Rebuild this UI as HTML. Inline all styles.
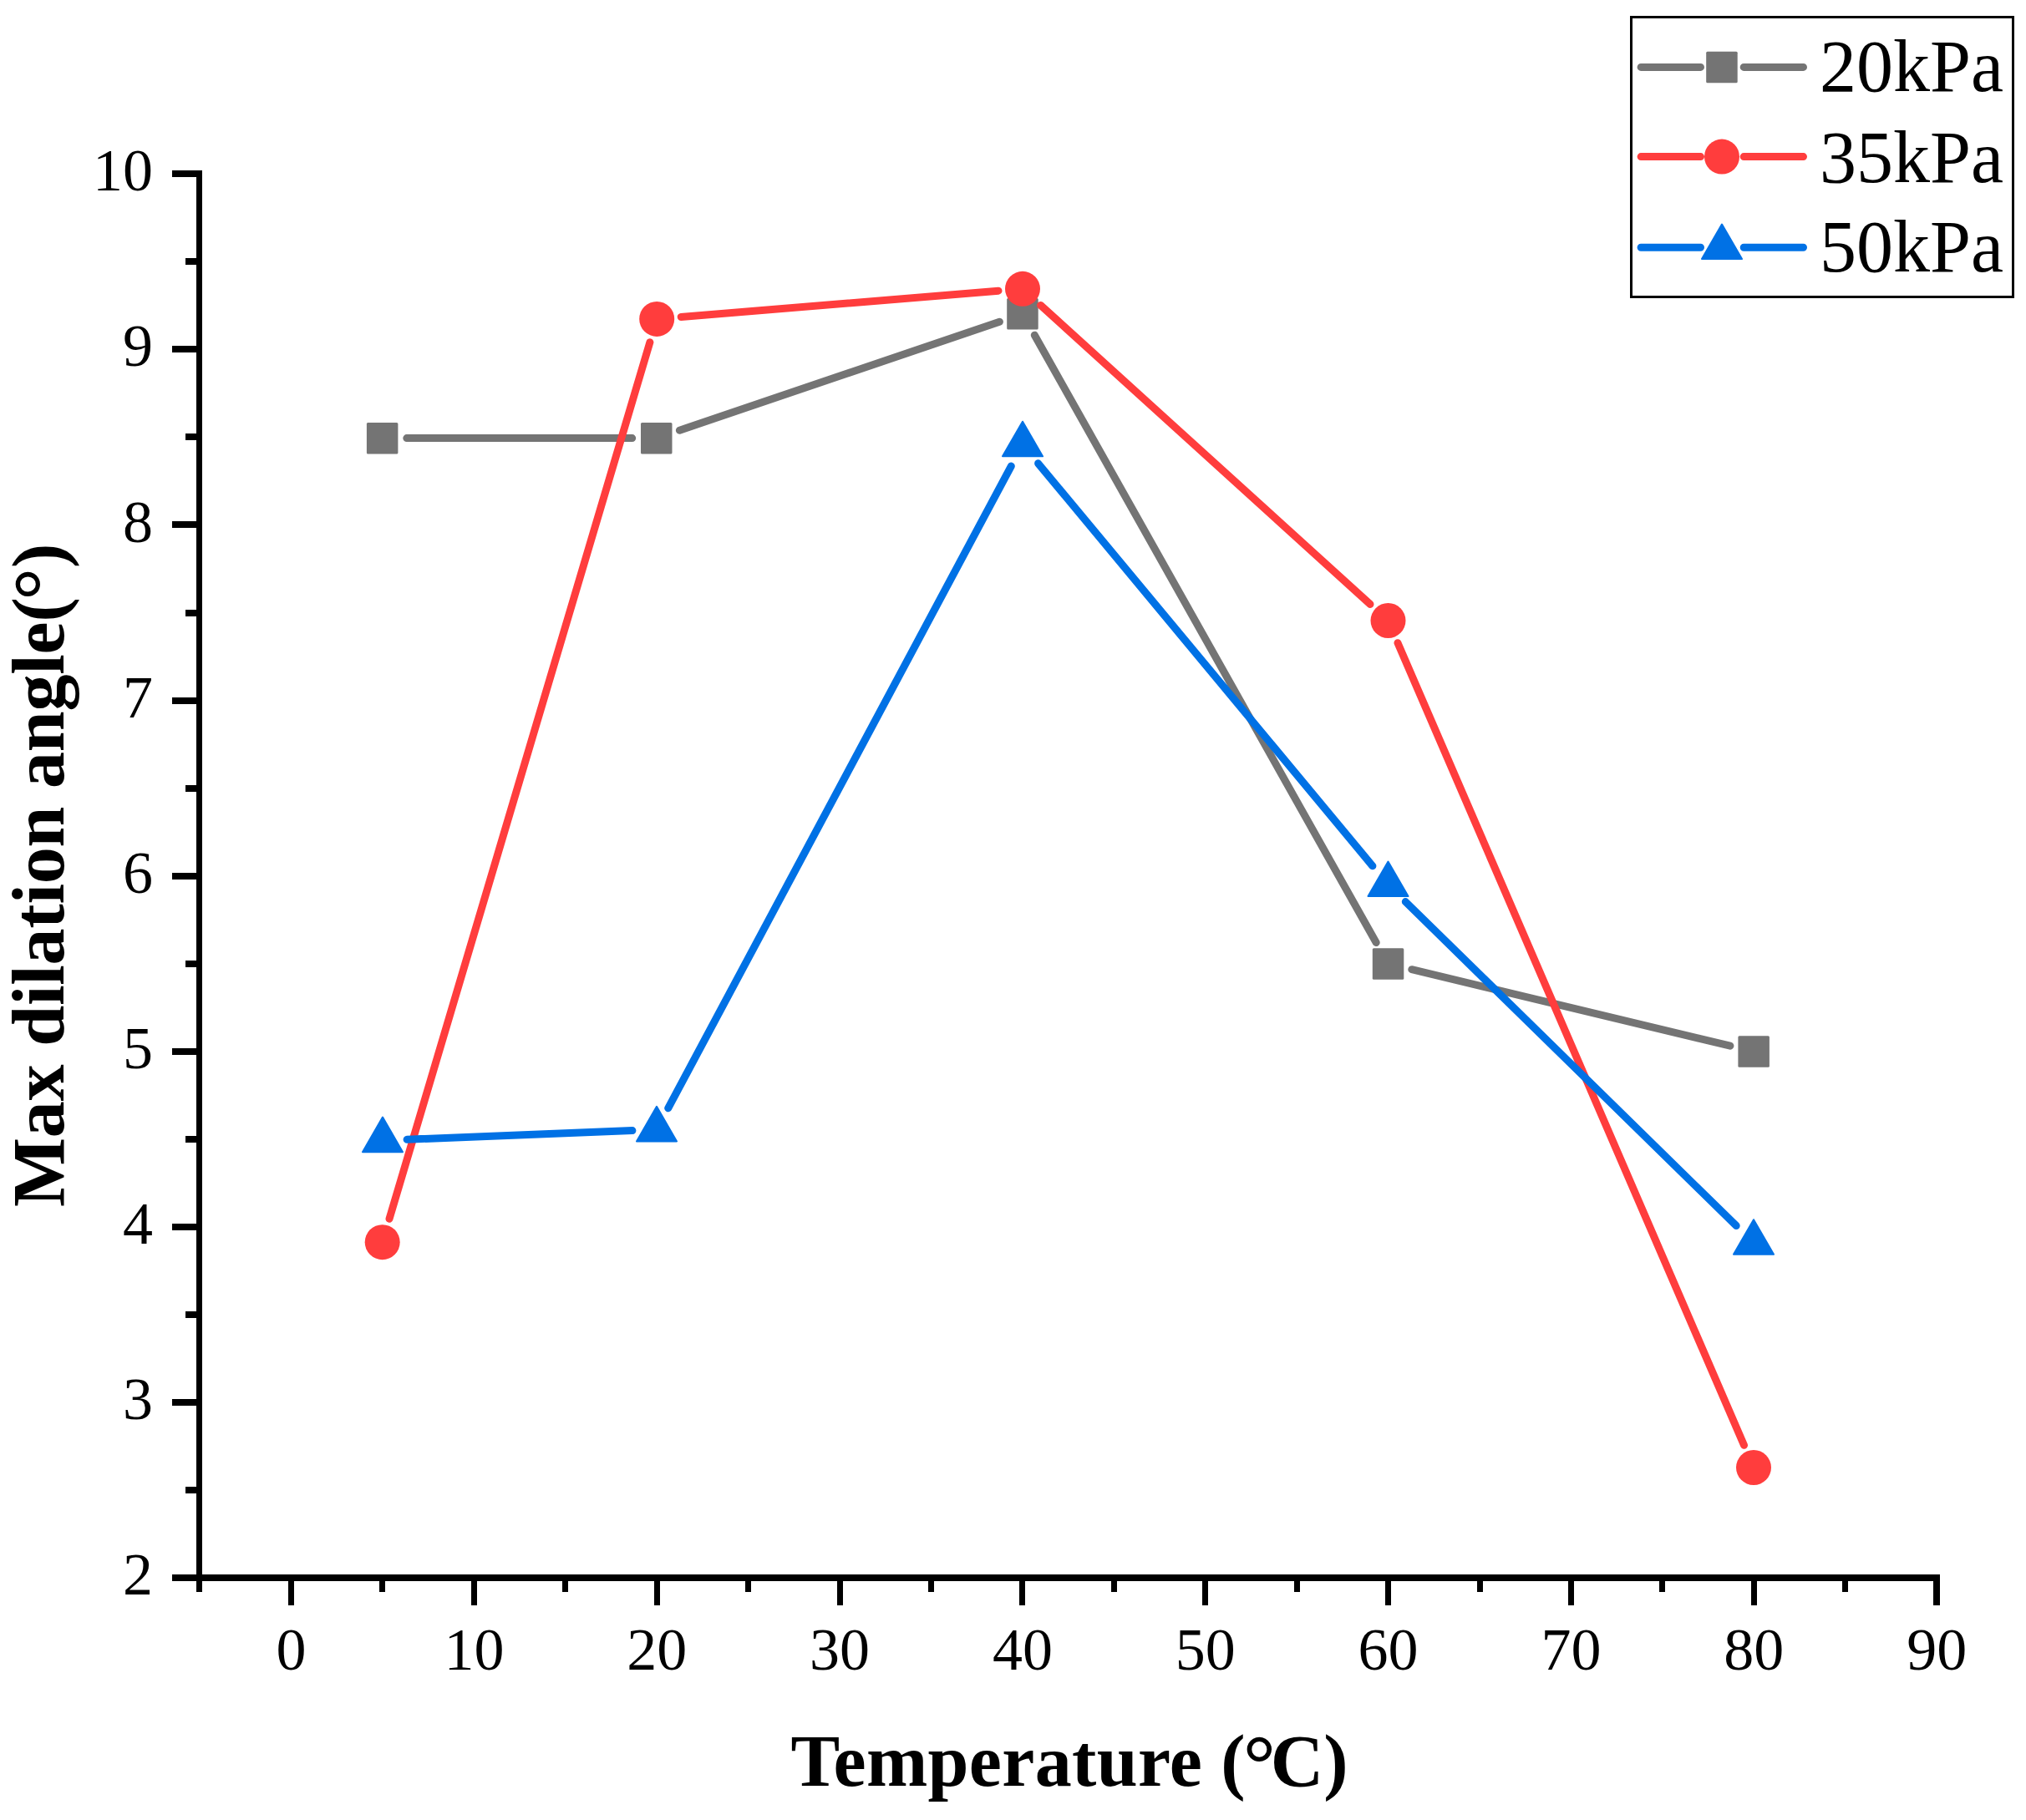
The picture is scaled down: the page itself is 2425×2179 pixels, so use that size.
<!DOCTYPE html>
<html lang="en"><head><meta charset="utf-8"><title>Max dilation angle vs Temperature</title>
<style>html,body{margin:0;padding:0;background:#fff}svg{display:block}text{font-family:"Liberation Serif","Times New Roman",serif;fill:#000}.tk{font-size:72px}.lg{font-size:88px}.tt{font-size:88px;font-weight:bold}</style></head><body>
<svg width="2425" height="2179" viewBox="0 0 2425 2179">
<rect width="2425" height="2179" fill="#fff"/>
<g fill="#000" shape-rendering="crispEdges">
<rect x="235" y="204" width="7" height="1689"/>
<rect x="235" y="1885" width="2087" height="8"/>
<rect x="206" y="1885" width="30" height="8"/>
<rect x="222" y="1780" width="14" height="8"/>
<rect x="206" y="1675" width="30" height="8"/>
<rect x="222" y="1570" width="14" height="8"/>
<rect x="206" y="1465" width="30" height="8"/>
<rect x="222" y="1360" width="14" height="8"/>
<rect x="206" y="1255" width="30" height="8"/>
<rect x="222" y="1150" width="14" height="8"/>
<rect x="206" y="1045" width="30" height="8"/>
<rect x="222" y="940" width="14" height="8"/>
<rect x="206" y="835" width="30" height="8"/>
<rect x="222" y="730" width="14" height="8"/>
<rect x="206" y="624" width="30" height="8"/>
<rect x="222" y="519" width="14" height="8"/>
<rect x="206" y="414" width="30" height="8"/>
<rect x="222" y="309" width="14" height="8"/>
<rect x="206" y="204" width="30" height="8"/>
<rect x="235" y="1890" width="7" height="16"/>
<rect x="345" y="1890" width="7" height="32"/>
<rect x="454" y="1890" width="7" height="16"/>
<rect x="564" y="1890" width="7" height="32"/>
<rect x="673" y="1890" width="7" height="16"/>
<rect x="783" y="1890" width="7" height="32"/>
<rect x="892" y="1890" width="7" height="16"/>
<rect x="1002" y="1890" width="7" height="32"/>
<rect x="1111" y="1890" width="7" height="16"/>
<rect x="1220" y="1890" width="7" height="32"/>
<rect x="1330" y="1890" width="7" height="16"/>
<rect x="1439" y="1890" width="7" height="32"/>
<rect x="1549" y="1890" width="7" height="16"/>
<rect x="1658" y="1890" width="7" height="32"/>
<rect x="1768" y="1890" width="7" height="16"/>
<rect x="1877" y="1890" width="7" height="32"/>
<rect x="1986" y="1890" width="7" height="16"/>
<rect x="2096" y="1890" width="7" height="32"/>
<rect x="2205" y="1890" width="7" height="16"/>
<rect x="2314" y="1890" width="8" height="32"/>
</g>
<g class="tk" text-anchor="end">
<text x="183" y="1909.3">2</text>
<text x="183" y="1699.2">3</text>
<text x="183" y="1489.0">4</text>
<text x="183" y="1278.9">5</text>
<text x="183" y="1068.8">6</text>
<text x="183" y="858.7">7</text>
<text x="183" y="648.5">8</text>
<text x="183" y="438.4">9</text>
<text x="183" y="227.5">10</text>
</g>
<g class="tk" text-anchor="middle">
<text x="348.5" y="1999">0</text>
<text x="567.4" y="1999">10</text>
<text x="786.2" y="1999">20</text>
<text x="1005.1" y="1999">30</text>
<text x="1223.9" y="1999">40</text>
<text x="1442.8" y="1999">50</text>
<text x="1661.6" y="1999">60</text>
<text x="1880.5" y="1999">70</text>
<text x="2099.3" y="1999">80</text>
<text x="2318.2" y="1999">90</text>
</g>
<text class="tt" x="946.5" y="2137.5"><tspan letter-spacing="0.35">Temperature</tspan> <tspan dx="0">(</tspan><tspan font-size="97" dx="-2.5" dy="6">°</tspan><tspan dx="-6" dy="-6">C)</tspan></text>
<text class="tt" transform="translate(76 1445) rotate(-90)"><tspan letter-spacing="-0.2">Max dilation angle</tspan><tspan dx="0">(</tspan><tspan font-size="97" dx="-3.5" dy="6.5">°</tspan><tspan dx="0" dy="-6.5">)</tspan></text>
<g>
<path d="M486.8 524.6L756.7 524.6M813.4 515.2L1196.4 385.2M1238.3 401.2L1647.2 1128.5M1689.8 1160.7L2070.9 1252.2" stroke="#747474" stroke-width="9" stroke-linecap="round" fill="none"/>
<rect x="438.9" y="505.9" width="37.5" height="37.5" rx="1.5" fill="#747474"/>
<rect x="767.0" y="505.9" width="37.5" height="37.5" rx="1.5" fill="#747474"/>
<rect x="1205.2" y="357.1" width="37.5" height="37.5" rx="1.5" fill="#747474"/>
<rect x="1642.8" y="1135.2" width="37.5" height="37.5" rx="1.5" fill="#747474"/>
<rect x="2080.4" y="1240.2" width="37.5" height="37.5" rx="1.5" fill="#747474"/>
<path d="M466.0 1459.3L777.9 409.8M815.2 379.5L1195.0 348.2M1245.5 365.4L1640.0 723.4M1673.0 769.7L2087.5 1730.3" stroke="#FF3D3D" stroke-width="9" stroke-linecap="round" fill="none"/>
<circle cx="457.7" cy="1487.2" r="21" fill="#FF3D3D"/>
<circle cx="786.2" cy="381.9" r="21" fill="#FF3D3D"/>
<circle cx="1224.0" cy="345.8" r="21" fill="#FF3D3D"/>
<circle cx="1661.5" cy="743.0" r="21" fill="#FF3D3D"/>
<circle cx="2099.0" cy="1757.0" r="21" fill="#FF3D3D"/>
<path d="M487.1 1364.2L756.9 1353.6M799.7 1326.8L1210.3 558.1M1242.6 554.8L1642.9 1036.8M1682.3 1079.6L2078.2 1467.5" stroke="#0071E5" stroke-width="9" stroke-linecap="round" fill="none"/>
<path d="M458.0 1337.6L482.0 1379.2L434.0 1379.2Z" fill="#0071E5" stroke="#0071E5" stroke-width="2" stroke-linejoin="round"/>
<path d="M786.0 1324.8L810.0 1366.4L762.0 1366.4Z" fill="#0071E5" stroke="#0071E5" stroke-width="2" stroke-linejoin="round"/>
<path d="M1224.0 504.7L1248.0 546.3L1200.0 546.3Z" fill="#0071E5" stroke="#0071E5" stroke-width="2" stroke-linejoin="round"/>
<path d="M1661.5 1031.5L1685.5 1073.1L1637.5 1073.1Z" fill="#0071E5" stroke="#0071E5" stroke-width="2" stroke-linejoin="round"/>
<path d="M2099.0 1460.2L2123.0 1501.8L2075.0 1501.8Z" fill="#0071E5" stroke="#0071E5" stroke-width="2" stroke-linejoin="round"/>
</g>
<rect x="1952.5" y="20.5" width="457" height="335" fill="#fff" stroke="#000" stroke-width="3" shape-rendering="crispEdges"/>
<path d="M1964.1 80.4L2035.5 80.4M2087.2 80.4L2158.5 80.4" stroke="#747474" stroke-width="9" stroke-linecap="round" fill="none"/>
<rect x="2042.2" y="61.7" width="37.5" height="37.5" rx="1.5" fill="#747474"/>
<text class="lg" x="2178" y="109.3">20kPa</text>
<path d="M1964.1 187.6L2035.5 187.6M2087.2 187.6L2158.5 187.6" stroke="#FF3D3D" stroke-width="9" stroke-linecap="round" fill="none"/>
<circle cx="2061.0" cy="187.6" r="21" fill="#FF3D3D"/>
<text class="lg" x="2178" y="217.5">35kPa</text>
<path d="M1964.1 296.2L2035.5 296.2M2087.2 296.2L2158.5 296.2" stroke="#0071E5" stroke-width="9" stroke-linecap="round" fill="none"/>
<path d="M2061.0 268.5L2085.0 310.1L2037.0 310.1Z" fill="#0071E5" stroke="#0071E5" stroke-width="2" stroke-linejoin="round"/>
<text class="lg" x="2178" y="324.6">50kPa</text>
</svg></body></html>
